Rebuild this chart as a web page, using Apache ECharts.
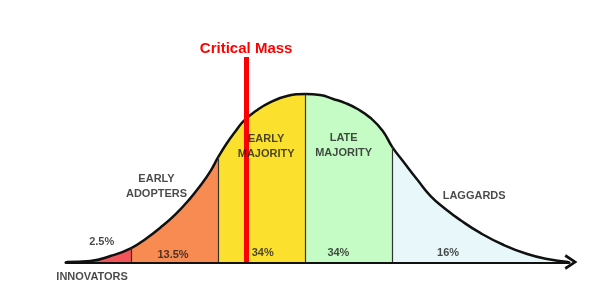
<!DOCTYPE html>
<html>
<head>
<meta charset="utf-8">
<script src="https://cdn.jsdelivr.net/npm/echarts@6/dist/echarts.min.js"></script>
<style>html,body{margin:0;padding:0;background:#fff}#c{width:600px;height:305px}</style>
</head>
<body>
<div id="c"></div>
<script>
// Curve: x in standard deviations from the mean, height in relative units
var curveX = [-2.74, -2.47, -2.24, -2.0, -1.82, -1.67, -1.49, -1.32, -1.21, -1.09, -1.0, -0.90, -0.80, -0.71, -0.57, -0.40, -0.21, 0.0, 0.17, 0.32, 0.46, 0.60, 0.75, 0.89, 1.0, 1.13, 1.29, 1.44, 1.61, 1.78, 2.01, 2.28, 2.55, 2.78, 3.02];
var curveY = [0, 0.6, 3.5, 8.2, 14.1, 20.0, 28.2, 37.6, 44.7, 53.5, 61.8, 70.0, 77.1, 82.9, 88.8, 94.1, 97.6, 98.8, 98.2, 95.9, 93.5, 90.0, 84.7, 77.1, 67.6, 58.8, 48.2, 38.8, 31.2, 24.7, 17.1, 10.0, 4.7, 1.8, 0];
var boundaries = [-2, -1, 0, 1];
var boundaryHeights = [8.2, 61.8, 98.8, 67.6];
var segmentColors = ['#f2545a', '#f78b52', '#fbe12e', '#c5fcc5', '#e8f7fa'];

var labelTexts = ['2.5%', 'INNOVATORS', 'EARLY\nADOPTERS', '13.5%', 'EARLY\nMAJORITY', '34%', 'LATE\nMAJORITY', '34%', 'LAGGARDS', '16%'];
var labelX = [-2.34, -2.45, -1.71, -1.52, -0.45, -0.49, 0.44, 0.38, 1.94, 1.64];
var labelY = [11.8, -8.8, 44.7, 4.1, 68.2, 5.3, 68.8, 5.3, 38.8, 5.3];

var criticalMassX = -0.68;
var criticalMassTop = 120.6;
var criticalMassText = 'Critical Mass';

var curveData = curveX.map(function (x, i) { return [x, curveY[i]]; });
var labelData = labelX.map(function (x, i) { return { value: [x, labelY[i]], name: labelTexts[i] }; });
var boundaryLines = boundaries.map(function (b, i) {
  return [{ coord: [b, 0] }, { coord: [b, boundaryHeights[i]] }];
});

var chart = echarts.init(document.getElementById('c'), null, { renderer: 'canvas' });
chart.setOption({
  animation: false,
  backgroundColor: '#ffffff',
  grid: { left: 66, right: 31, top: 41, bottom: 9 },
  xAxis: {
    type: 'value', min: -2.75, max: 3.03,
    axisLine: {
      show: true, onZero: true,
      lineStyle: { color: '#111', width: 3 },
      symbol: ['none', 'path://M0,12 L8,0 L16,12 L13.5,13.5 L8,5 L2.5,13.5 Z'],
      symbolSize: [16, 13],
      symbolOffset: [0, 2]
    },
    axisTick: { show: false }, axisLabel: { show: false }, splitLine: { show: false }
  },
  yAxis: {
    type: 'value', min: -20, max: 130, show: false,
    splitLine: { show: false }
  },
  visualMap: {
    type: 'piecewise', show: false, dimension: 0, seriesIndex: 0,
    pieces: [
      { lt: boundaries[0], color: segmentColors[0] },
      { gte: boundaries[0], lt: boundaries[1], color: segmentColors[1] },
      { gte: boundaries[1], lt: boundaries[2], color: segmentColors[2] },
      { gte: boundaries[2], lt: boundaries[3], color: segmentColors[3] },
      { gte: boundaries[3], color: segmentColors[4] }
    ]
  },
  series: [
    {
      type: 'line', data: curveData, smooth: 0.5, symbol: 'none',
      lineStyle: { width: 0 }, areaStyle: { opacity: 1 }, z: 1, silent: true
    },
    {
      type: 'line', data: curveData, smooth: 0.5, symbol: 'none',
      lineStyle: { color: '#111', width: 2.5 }, z: 3, silent: true,
      markLine: {
        silent: true, symbol: ['none', 'none'],
        lineStyle: { color: '#333', width: 1.2, type: 'solid' },
        label: { show: false },
        data: boundaryLines
      }
    },
    {
      type: 'scatter', data: labelData, symbolSize: 0, clip: false, z: 5, silent: true,
      label: {
        show: true, position: 'inside', formatter: '{b}',
        fontFamily: 'Liberation Sans, Arial, sans-serif', fontSize: 11, fontWeight: 'bold', color: '#1c1c1c',
        lineHeight: 15, align: 'center', verticalAlign: 'middle'
      },
      markLine: {
        silent: true, symbol: ['none', 'none'],
        lineStyle: { color: '#ff0000', width: 5, type: 'solid' },
        label: {
          show: true, position: 'end', distance: 1, formatter: criticalMassText,
          color: '#ff0000', fontSize: 15, fontWeight: 'bold',
          fontFamily: 'Liberation Sans, Arial, sans-serif'
        },
        data: [[{ coord: [criticalMassX, 0] }, { coord: [criticalMassX, criticalMassTop] }]]
      }
    }
  ]
});
</script>
</body>
</html>
